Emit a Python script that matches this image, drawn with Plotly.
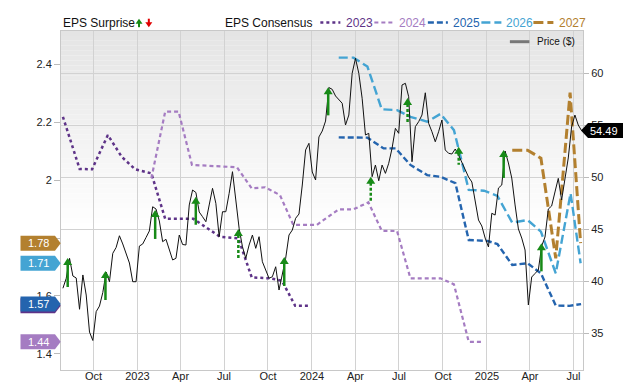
import plotly.graph_objects as go
import pandas as pd

W, H = 640, 382
L, R, T, B = 60.7, 582.6, 31.0, 370.0


def px_x(p):
    return (p - L) / (R - L)


def px_y(p):
    return (B - p) / (B - T)


# ---------------- data ----------------
price_start, price_end = "2022-07-29", "2025-07-18"
price = [39.33, 40.29, 42.21, 40.51, 40.32, 37.31, 40.61, 38.68, 35.12, 34.31,
         37.08, 37.62, 38.92, 40.89, 39.96, 42.69, 43.25, 44.38, 43.59, 42.77,
         41.76, 39.96, 39.96, 43.39, 43.59, 44.21, 44.84, 47.17, 46.95, 45.80,
         43.81, 44.04, 43.01, 42.05, 42.21, 44.45, 43.54, 43.49, 47.34, 48.78,
         48.54, 46.66, 46.21, 45.73, 47.34, 48.94, 47.50, 44.29, 46.69, 46.69,
         48.46, 50.54, 47.82, 45.10, 43.33, 42.21, 43.49, 44.45, 43.17, 44.29,
         41.88, 41.09, 40.29, 40.44, 41.40, 39.16, 40.61, 42.21, 44.45, 44.93,
         46.06, 46.47, 49.26, 52.63, 53.27, 50.51, 49.74, 53.88, 54.45, 55.41,
         58.63, 58.46, 57.82, 57.50, 57.12, 55.03, 55.99, 60.00, 61.44, 60.00,
         57.60, 54.07, 54.23, 50.06, 51.18, 49.67, 51.18, 50.38, 51.35, 52.79,
         54.71, 54.23, 58.88, 59.04, 57.75, 51.50, 54.87, 55.35, 55.99, 58.13,
         55.19, 54.38, 53.42, 54.38, 55.51, 52.63, 52.31, 52.24, 52.72, 52.14,
         51.38, 50.61, 50.03, 49.55, 47.82, 45.89, 45.32, 44.16, 43.30, 46.54,
         46.37, 48.97, 49.26, 52.53, 51.38, 49.93, 47.34, 45.03, 44.16, 43.01,
         37.72, 40.41, 40.75, 41.09, 43.39, 44.26, 46.95, 47.24, 48.59, 49.90,
         47.82, 49.84, 51.86, 54.84, 55.99, 55.03, 54.49]

eps2023_dates = ["2022-07-29", "2022-09-02", "2022-09-28", "2022-10-31", "2022-11-29",
                 "2022-12-27", "2023-01-30", "2023-02-28", "2023-04-28", "2023-05-23",
                 "2023-06-23", "2023-07-31", "2023-08-28", "2023-10-05", "2023-10-30",
                 "2023-11-27", "2023-12-25"]
eps2023 = [2.218, 2.038, 2.037, 2.155, 2.080, 2.037, 2.023, 1.866, 1.866, 1.839,
           1.804, 1.799, 1.664, 1.661, 1.653, 1.566, 1.566]

eps2024_dates = ["2023-01-30", "2023-02-28", "2023-03-28", "2023-04-25", "2023-07-28",
                 "2023-08-28", "2023-09-25", "2023-10-26", "2023-11-23", "2023-12-25",
                 "2024-01-11", "2024-02-26", "2024-03-28", "2024-04-28", "2024-05-26",
                 "2024-06-27", "2024-07-25", "2024-09-26", "2024-10-24", "2024-11-24",
                 "2024-12-22"]
eps2024 = [2.006, 2.236, 2.236, 2.052, 2.044, 1.971, 1.975, 1.948, 1.845, 1.845,
           1.845, 1.899, 1.899, 1.923, 1.825, 1.824, 1.661, 1.661, 1.640, 1.442,
           1.442]

eps2025_dates = ["2024-02-26", "2024-04-26", "2024-05-30", "2024-06-24", "2024-07-25",
                 "2024-08-29", "2024-09-26", "2024-10-27", "2024-11-24", "2025-01-02",
                 "2025-01-23", "2025-02-23", "2025-03-27", "2025-04-24", "2025-05-25",
                 "2025-06-22", "2025-07-17"]
eps2025 = [2.147, 2.146, 2.109, 2.109, 2.052, 2.017, 2.011, 1.989, 1.793, 1.790,
           1.779, 1.707, 1.713, 1.678, 1.567, 1.566, 1.572]

eps2026_dates = ["2024-02-26", "2024-03-28", "2024-04-26", "2024-05-26", "2024-06-27",
                 "2024-07-25", "2024-08-29", "2024-09-26", "2024-10-24", "2024-11-24",
                 "2024-12-26", "2025-01-23", "2025-02-23", "2025-03-27", "2025-04-24",
                 "2025-05-25", "2025-06-25", "2025-07-16"]
eps2026 = [2.422, 2.422, 2.391, 2.244, 2.241, 2.218, 2.201, 2.228, 2.172, 1.966,
           1.963, 1.945, 1.853, 1.862, 1.822, 1.678, 1.954, 1.713]

eps2027_dates = ["2025-02-23", "2025-03-27", "2025-04-24", "2025-05-25", "2025-06-24",
                 "2025-07-16"]
eps2027 = [2.103, 2.103, 2.075, 1.730, 2.301, 1.782]

surprise_dates = ["2022-08-08", "2022-10-26", "2023-02-07", "2023-05-03", "2023-07-31",
                  "2023-11-04", "2024-02-04", "2024-05-03", "2024-07-19", "2024-11-03",
                  "2025-02-05", "2025-04-25"]
surprise_price = [42.24, 40.99, 46.86, 48.13, 45.03, 42.34, 58.65, 50.06, 57.62, 52.94,
                  52.63, 43.65]
surprise_dashed = [False, False, False, False, True, False, False, True, True, True,
                   False, False]
arrow_len_px = [29, 29, 29, 28, 29, 29, 28, 24, 25, 18, 28, 28]

xtick_vals = ["2022-10-01", "2023-01-01", "2023-04-01", "2023-07-01", "2023-10-01",
              "2024-01-01", "2024-04-01", "2024-07-01", "2024-10-01", "2025-01-01",
              "2025-04-01", "2025-07-01"]
xtick_text = ["Oct", "2023", "Apr", "Jul", "Oct", "2024", "Apr", "Jul", "Oct", "2025",
              "Apr", "Jul"]

# ---------------- styles ----------------
C23, C24, C25, C26, C27 = "#5e3388", "#a57cc2", "#2464ae", "#44a4d3", "#b3802f"
GREEN = "#178a17"

series = [
    ("2023", eps2023_dates, eps2023, C23, 2.5, "dot"),
    ("2024", eps2024_dates, eps2024, C24, 2.2, "4px,3px"),
    ("2025", eps2025_dates, eps2025, C25, 2.4, "6px,3px"),
    ("2026", eps2026_dates, eps2026, C26, 2.4, "9px,4px"),
    ("2027", eps2027_dates, eps2027, C27, 3.0, "10px,4px"),
]

price_dates = pd.date_range(price_start, price_end, periods=len(price))

fig = go.Figure()
for name, d, v, c, w, dash in series:
    fig.add_trace(go.Scatter(x=pd.to_datetime(d), y=v, mode="lines", name=name,
                             line=dict(color=c, width=w, dash=dash),
                             yaxis="y", hoverinfo="skip"))
fig.add_trace(go.Scatter(x=price_dates, y=price, mode="lines", name="Price ($)",
                         line=dict(color="#111111", width=1), yaxis="y2",
                         hoverinfo="skip"))

shapes = []
annotations = []

# plot background gradient
n_bands = 40
g_lo, g_hi = 0.42, 1.0
for i in range(n_bands):
    y0 = g_lo + (g_hi - g_lo) * i / n_bands
    y1 = g_lo + (g_hi - g_lo) * (i + 1) / n_bands
    t = (i + 0.5) / n_bands
    g = int(round(255 - t * (255 - 228)))
    shapes.append(dict(type="rect", xref="paper", yref="paper", x0=0, x1=1, y0=y0, y1=y1,
                       fillcolor=f"rgb({g},{g},{g})", line=dict(width=0), layer="below"))

# surprise arrows
for d, p, dashed, ln in zip(surprise_dates, surprise_price, surprise_dashed, arrow_len_px):
    shapes.append(dict(type="line", xref="x", yref="y2", xsizemode="pixel", ysizemode="pixel",
                       xanchor=d, yanchor=p, x0=0, x1=0, y0=-6, y1=-ln,
                       line=dict(color=GREEN, width=2.5, dash="3px,2px" if dashed else "solid")))
    shapes.append(dict(type="path", xref="x", yref="y2", xsizemode="pixel", ysizemode="pixel",
                       xanchor=d, yanchor=p, path="M -4.5 -7 L 4.5 -7 L 0 0 Z",
                       fillcolor=GREEN, line=dict(width=0)))

# left value badges (2023 drawn first, hidden under 2025)
badge_path_left = "M -40.5 -7.5 L -6 -7.5 L -0.3 0 L -6 7.5 L -40.5 7.5 Z"
for name, d, v, c, w, dash in series:
    shapes.append(dict(type="path", xref="paper", yref="y", xsizemode="pixel", ysizemode="pixel",
                       xanchor=0, yanchor=v[-1], path=badge_path_left,
                       fillcolor=c, line=dict(width=0)))
    if name != "2023":
        annotations.append(dict(xref="paper", yref="y", x=0, y=v[-1], xshift=-23,
                                text=f"{v[-1]:.2f}", showarrow=False, xanchor="center",
                                yanchor="middle", font=dict(color="white", size=11)))

# right price badge
shapes.append(dict(type="path", xref="paper", yref="y2", xsizemode="pixel", ysizemode="pixel",
                   xanchor=1, yanchor=price[-1],
                   path="M -2 0 L 5 7.5 L 40 7.5 L 40 -7.5 L 5 -7.5 Z",
                   fillcolor="#000000", line=dict(width=0)))
annotations.append(dict(xref="paper", yref="y2", x=1, y=price[-1], xshift=21,
                        text=f"{price[-1]:.2f}", showarrow=False, xanchor="center",
                        yanchor="middle", font=dict(color="white", size=11)))

# ---------------- top legend ----------------
ly = 23.0
annotations.append(dict(xref="paper", yref="paper", x=px_x(60.7), y=px_y(ly), text="EPS Surprise",
                        showarrow=False, xanchor="left", yanchor="middle",
                        font=dict(size=12, color="#111")))
# green up arrow
shapes.append(dict(type="line", xref="paper", yref="paper", xsizemode="pixel", ysizemode="pixel",
                   xanchor=px_x(138.7), yanchor=px_y(18.7), x0=0, x1=0, y0=-4, y1=-8.5,
                   line=dict(color=GREEN, width=2)))
shapes.append(dict(type="path", xref="paper", yref="paper", xsizemode="pixel", ysizemode="pixel",
                   xanchor=px_x(138.7), yanchor=px_y(18.7), path="M -3.5 -5 L 3.5 -5 L 0 0 Z",
                   fillcolor=GREEN, line=dict(width=0)))
# red down arrow
shapes.append(dict(type="line", xref="paper", yref="paper", xsizemode="pixel", ysizemode="pixel",
                   xanchor=px_x(148.5), yanchor=px_y(27.2), x0=0, x1=0, y0=4, y1=8.5,
                   line=dict(color="#e00000", width=2)))
shapes.append(dict(type="path", xref="paper", yref="paper", xsizemode="pixel", ysizemode="pixel",
                   xanchor=px_x(148.5), yanchor=px_y(27.2), path="M -3.5 5 L 3.5 5 L 0 0 Z",
                   fillcolor="#e00000", line=dict(width=0)))

annotations.append(dict(xref="paper", yref="paper", x=px_x(222.8), y=px_y(ly), text="EPS Consensus",
                        showarrow=False, xanchor="left", yanchor="middle",
                        font=dict(size=12, color="#111")))
legend_pos = [(320, 343.8), (374, 397), (427.5, 450.5), (481, 503.8), (533, 556.7)]
for (name, d, v, c, w, dash), (lx, tx) in zip(series, legend_pos):
    shapes.append(dict(type="line", xref="paper", yref="paper",
                       x0=px_x(lx), x1=px_x(lx + 20), y0=px_y(ly - 0.5), y1=px_y(ly - 0.5),
                       line=dict(color=c, width=w, dash=dash)))
    annotations.append(dict(xref="paper", yref="paper", x=px_x(tx), y=px_y(ly), text=name,
                            showarrow=False, xanchor="left", yanchor="middle",
                            font=dict(size=12, color=c)))

# price legend inside plot
shapes.append(dict(type="line", xref="paper", yref="paper",
                   x0=px_x(509.5), x1=px_x(529), y0=px_y(41.7), y1=px_y(41.7),
                   line=dict(color="#777777", width=3)))
annotations.append(dict(xref="paper", yref="paper", x=px_x(534.5), y=px_y(41.7), text="Price ($)",
                        showarrow=False, xanchor="left", yanchor="middle",
                        font=dict(size=10, color="#111")))

fig.update_layout(
    width=W, height=H, autosize=False,
    margin=dict(l=L, r=W - R, t=T, b=H - B, pad=0),
    paper_bgcolor="white", plot_bgcolor="white", showlegend=False,
    font=dict(family="Liberation Sans, Arial, sans-serif", size=11, color="#222"),
    xaxis=dict(type="date", range=["2022-07-25", "2025-07-21"],
               tickvals=xtick_vals, ticktext=xtick_text, showgrid=True,
               gridcolor="#d2d2d2", gridwidth=1, showline=True, mirror=True,
               linecolor="#c8c8c8", ticks="", zeroline=False, automargin=False,
               ticklabelstandoff=-4),
    yaxis=dict(range=[1.3448, 2.5138], tickvals=[1.4, 1.6, 1.8, 2.0, 2.2, 2.4],
               ticktext=["1.4", "1.6", "", "2", "2.2", "2.4"], showgrid=False,
               ticks="outside", ticklen=6, tickcolor="#bbbbbb", showline=True,
               linecolor="#c8c8c8", zeroline=False, automargin=False),
    yaxis2=dict(overlaying="y", side="right", range=[31.47, 64.07],
                tickvals=[35, 40, 45, 50, 55, 60], showgrid=True, gridcolor="#d2d2d2",
                ticks="outside", ticklen=5, tickcolor="#bbbbbb", showline=True,
                linecolor="#c8c8c8", zeroline=False, automargin=False),
    shapes=shapes, annotations=annotations,
)

fig.write_html("out.html", config={"displayModeBar": False, "staticPlot": True},
               post_script="document.body.style.margin='0';document.body.style.overflow='hidden';")
